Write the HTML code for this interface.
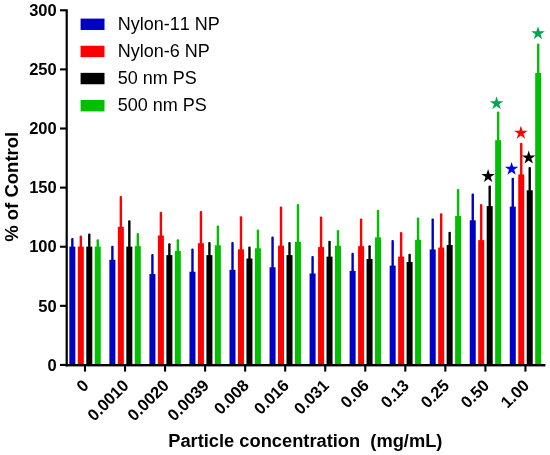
<!DOCTYPE html>
<html><head><meta charset="utf-8"><title>Chart</title>
<style>html,body{margin:0;padding:0;background:#fff}svg{display:block}text{font-family:"Liberation Sans",Arial,sans-serif;fill:#000;font-kerning:none}</style></head><body>
<svg width="550" height="455" viewBox="0 0 550 455">
<rect width="550" height="455" fill="#fff"/>
<rect x="69.34" y="246.60" width="6.0" height="118.00" fill="#0000c6"/>
<rect x="71.14" y="238.10" width="2.4" height="9.50" rx="1" fill="#0000c6"/>
<rect x="77.81" y="246.60" width="6.0" height="118.00" fill="#ff0000"/>
<rect x="79.61" y="235.51" width="2.4" height="12.09" rx="1" fill="#ff0000"/>
<rect x="86.28" y="246.60" width="6.0" height="118.00" fill="#000000"/>
<rect x="88.08" y="233.38" width="2.4" height="14.22" rx="1" fill="#000000"/>
<rect x="94.75" y="246.60" width="6.0" height="118.00" fill="#00c000"/>
<rect x="96.55" y="239.17" width="2.4" height="8.43" rx="1" fill="#00c000"/>
<rect x="109.38" y="259.82" width="6.0" height="104.78" fill="#0000c6"/>
<rect x="111.18" y="245.77" width="2.4" height="15.04" rx="1" fill="#0000c6"/>
<rect x="117.85" y="226.78" width="6.0" height="137.82" fill="#ff0000"/>
<rect x="119.65" y="195.98" width="2.4" height="31.80" rx="1" fill="#ff0000"/>
<rect x="126.33" y="246.60" width="6.0" height="118.00" fill="#000000"/>
<rect x="128.13" y="220.17" width="2.4" height="27.43" rx="1" fill="#000000"/>
<rect x="134.80" y="246.13" width="6.0" height="118.47" fill="#00c000"/>
<rect x="136.60" y="232.91" width="2.4" height="14.22" rx="1" fill="#00c000"/>
<rect x="149.42" y="274.09" width="6.0" height="90.51" fill="#0000c6"/>
<rect x="151.22" y="254.03" width="2.4" height="21.06" rx="1" fill="#0000c6"/>
<rect x="157.89" y="235.51" width="6.0" height="129.09" fill="#ff0000"/>
<rect x="159.69" y="211.79" width="2.4" height="24.72" rx="1" fill="#ff0000"/>
<rect x="166.37" y="255.10" width="6.0" height="109.50" fill="#000000"/>
<rect x="168.17" y="243.18" width="2.4" height="12.92" rx="1" fill="#000000"/>
<rect x="174.84" y="250.85" width="6.0" height="113.75" fill="#00c000"/>
<rect x="176.64" y="239.17" width="2.4" height="12.68" rx="1" fill="#00c000"/>
<rect x="189.47" y="271.73" width="6.0" height="92.87" fill="#0000c6"/>
<rect x="191.27" y="248.49" width="2.4" height="24.25" rx="1" fill="#0000c6"/>
<rect x="197.94" y="243.18" width="6.0" height="121.42" fill="#ff0000"/>
<rect x="199.74" y="210.96" width="2.4" height="33.21" rx="1" fill="#ff0000"/>
<rect x="206.41" y="255.10" width="6.0" height="109.50" fill="#000000"/>
<rect x="208.21" y="241.88" width="2.4" height="14.22" rx="1" fill="#000000"/>
<rect x="214.88" y="245.30" width="6.0" height="119.30" fill="#00c000"/>
<rect x="216.68" y="225.48" width="2.4" height="20.82" rx="1" fill="#00c000"/>
<rect x="229.50" y="269.85" width="6.0" height="94.75" fill="#0000c6"/>
<rect x="231.31" y="241.88" width="2.4" height="28.97" rx="1" fill="#0000c6"/>
<rect x="237.97" y="249.31" width="6.0" height="115.29" fill="#ff0000"/>
<rect x="239.78" y="216.27" width="2.4" height="34.04" rx="1" fill="#ff0000"/>
<rect x="246.45" y="258.52" width="6.0" height="106.08" fill="#000000"/>
<rect x="248.25" y="246.60" width="2.4" height="12.92" rx="1" fill="#000000"/>
<rect x="254.92" y="248.25" width="6.0" height="116.35" fill="#00c000"/>
<rect x="256.72" y="229.49" width="2.4" height="19.76" rx="1" fill="#00c000"/>
<rect x="269.55" y="267.25" width="6.0" height="97.35" fill="#0000c6"/>
<rect x="271.35" y="236.57" width="2.4" height="31.68" rx="1" fill="#0000c6"/>
<rect x="278.01" y="245.66" width="6.0" height="118.94" fill="#ff0000"/>
<rect x="279.81" y="206.48" width="2.4" height="40.18" rx="1" fill="#ff0000"/>
<rect x="286.49" y="255.10" width="6.0" height="109.50" fill="#000000"/>
<rect x="288.29" y="241.88" width="2.4" height="14.22" rx="1" fill="#000000"/>
<rect x="294.95" y="241.88" width="6.0" height="122.72" fill="#00c000"/>
<rect x="296.75" y="203.88" width="2.4" height="39.00" rx="1" fill="#00c000"/>
<rect x="309.59" y="273.50" width="6.0" height="91.10" fill="#0000c6"/>
<rect x="311.39" y="255.92" width="2.4" height="18.58" rx="1" fill="#0000c6"/>
<rect x="318.06" y="247.07" width="6.0" height="117.53" fill="#ff0000"/>
<rect x="319.86" y="216.51" width="2.4" height="31.56" rx="1" fill="#ff0000"/>
<rect x="326.53" y="256.63" width="6.0" height="107.97" fill="#000000"/>
<rect x="328.33" y="240.82" width="2.4" height="16.81" rx="1" fill="#000000"/>
<rect x="335.00" y="245.77" width="6.0" height="118.83" fill="#00c000"/>
<rect x="336.80" y="230.08" width="2.4" height="16.69" rx="1" fill="#00c000"/>
<rect x="349.62" y="270.91" width="6.0" height="93.69" fill="#0000c6"/>
<rect x="351.43" y="252.74" width="2.4" height="19.17" rx="1" fill="#0000c6"/>
<rect x="358.09" y="246.13" width="6.0" height="118.47" fill="#ff0000"/>
<rect x="359.89" y="218.40" width="2.4" height="28.73" rx="1" fill="#ff0000"/>
<rect x="366.56" y="258.99" width="6.0" height="105.61" fill="#000000"/>
<rect x="368.37" y="245.30" width="2.4" height="14.69" rx="1" fill="#000000"/>
<rect x="375.03" y="237.40" width="6.0" height="127.20" fill="#00c000"/>
<rect x="376.83" y="209.67" width="2.4" height="28.73" rx="1" fill="#00c000"/>
<rect x="389.67" y="265.60" width="6.0" height="99.00" fill="#0000c6"/>
<rect x="391.47" y="239.99" width="2.4" height="26.61" rx="1" fill="#0000c6"/>
<rect x="398.13" y="256.63" width="6.0" height="107.97" fill="#ff0000"/>
<rect x="399.94" y="232.09" width="2.4" height="25.54" rx="1" fill="#ff0000"/>
<rect x="406.61" y="261.94" width="6.0" height="102.66" fill="#000000"/>
<rect x="408.41" y="253.68" width="2.4" height="9.26" rx="1" fill="#000000"/>
<rect x="415.07" y="239.76" width="6.0" height="124.84" fill="#00c000"/>
<rect x="416.88" y="217.57" width="2.4" height="23.18" rx="1" fill="#00c000"/>
<rect x="429.71" y="249.43" width="6.0" height="115.17" fill="#0000c6"/>
<rect x="431.51" y="218.52" width="2.4" height="31.92" rx="1" fill="#0000c6"/>
<rect x="438.18" y="247.54" width="6.0" height="117.06" fill="#ff0000"/>
<rect x="439.98" y="213.21" width="2.4" height="35.34" rx="1" fill="#ff0000"/>
<rect x="446.65" y="245.07" width="6.0" height="119.53" fill="#000000"/>
<rect x="448.45" y="231.73" width="2.4" height="14.33" rx="1" fill="#000000"/>
<rect x="455.12" y="215.92" width="6.0" height="148.68" fill="#00c000"/>
<rect x="456.92" y="188.90" width="2.4" height="28.02" rx="1" fill="#00c000"/>
<rect x="469.75" y="220.29" width="6.0" height="144.31" fill="#0000c6"/>
<rect x="471.55" y="193.50" width="2.4" height="27.79" rx="1" fill="#0000c6"/>
<rect x="478.21" y="240.11" width="6.0" height="124.49" fill="#ff0000"/>
<rect x="480.01" y="204.12" width="2.4" height="36.99" rx="1" fill="#ff0000"/>
<rect x="486.69" y="206.13" width="6.0" height="158.47" fill="#000000"/>
<rect x="488.49" y="185.59" width="2.4" height="21.53" rx="1" fill="#000000"/>
<rect x="495.15" y="140.16" width="6.0" height="224.44" fill="#00c000"/>
<rect x="496.95" y="111.49" width="2.4" height="29.67" rx="1" fill="#00c000"/>
<rect x="509.78" y="206.60" width="6.0" height="158.00" fill="#0000c6"/>
<rect x="511.58" y="177.69" width="2.4" height="29.91" rx="1" fill="#0000c6"/>
<rect x="518.25" y="174.38" width="6.0" height="190.22" fill="#ff0000"/>
<rect x="520.05" y="142.76" width="2.4" height="32.62" rx="1" fill="#ff0000"/>
<rect x="526.73" y="190.31" width="6.0" height="174.29" fill="#000000"/>
<rect x="528.52" y="166.95" width="2.4" height="24.36" rx="1" fill="#000000"/>
<rect x="535.20" y="73.02" width="6.0" height="291.58" fill="#00c000"/>
<rect x="537.00" y="43.52" width="2.4" height="30.50" rx="1" fill="#00c000"/>
<rect x="65.6" y="9.3" width="2.2" height="357.10" fill="#000"/>
<rect x="65.6" y="364.0" width="479.80" height="2.4" fill="#000"/>
<rect x="60" y="363.90" width="6.5" height="2.1" fill="#000"/>
 <text x="56.7" y="370.65" font-size="16.5" font-weight="bold" text-anchor="end">0</text>
<rect x="60" y="304.79" width="6.5" height="2.1" fill="#000"/>
 <text x="56.7" y="311.54" font-size="16.5" font-weight="bold" text-anchor="end">50</text>
<rect x="60" y="245.68" width="6.5" height="2.1" fill="#000"/>
 <text x="56.7" y="252.43" font-size="16.5" font-weight="bold" text-anchor="end">100</text>
<rect x="60" y="186.57" width="6.5" height="2.1" fill="#000"/>
 <text x="56.7" y="193.32" font-size="16.5" font-weight="bold" text-anchor="end">150</text>
<rect x="60" y="127.46" width="6.5" height="2.1" fill="#000"/>
 <text x="56.7" y="134.21" font-size="16.5" font-weight="bold" text-anchor="end">200</text>
<rect x="60" y="68.35" width="6.5" height="2.1" fill="#000"/>
 <text x="56.7" y="75.10" font-size="16.5" font-weight="bold" text-anchor="end">250</text>
<rect x="60" y="9.24" width="6.5" height="2.1" fill="#000"/>
 <text x="56.7" y="15.99" font-size="16.5" font-weight="bold" text-anchor="end">300</text>
<rect x="83.95" y="364.60" width="2.1" height="7.00" fill="#000"/>
<text transform="translate(89.80,386.4) rotate(-45)" font-size="16.5" font-weight="bold" text-anchor="end">0</text>
<rect x="123.99" y="364.60" width="2.1" height="7.00" fill="#000"/>
<text transform="translate(129.84,386.4) rotate(-45)" font-size="16.5" font-weight="bold" text-anchor="end">0.0010</text>
<rect x="164.03" y="364.60" width="2.1" height="7.00" fill="#000"/>
<text transform="translate(169.88,386.4) rotate(-45)" font-size="16.5" font-weight="bold" text-anchor="end">0.0020</text>
<rect x="204.07" y="364.60" width="2.1" height="7.00" fill="#000"/>
<text transform="translate(209.92,386.4) rotate(-45)" font-size="16.5" font-weight="bold" text-anchor="end">0.0039</text>
<rect x="244.11" y="364.60" width="2.1" height="7.00" fill="#000"/>
<text transform="translate(249.96,386.4) rotate(-45)" font-size="16.5" font-weight="bold" text-anchor="end">0.008</text>
<rect x="284.15" y="364.60" width="2.1" height="7.00" fill="#000"/>
<text transform="translate(290.00,386.4) rotate(-45)" font-size="16.5" font-weight="bold" text-anchor="end">0.016</text>
<rect x="324.19" y="364.60" width="2.1" height="7.00" fill="#000"/>
<text transform="translate(330.04,386.4) rotate(-45)" font-size="16.5" font-weight="bold" text-anchor="end">0.031</text>
<rect x="364.23" y="364.60" width="2.1" height="7.00" fill="#000"/>
<text transform="translate(370.08,386.4) rotate(-45)" font-size="16.5" font-weight="bold" text-anchor="end">0.06</text>
<rect x="404.27" y="364.60" width="2.1" height="7.00" fill="#000"/>
<text transform="translate(410.12,386.4) rotate(-45)" font-size="16.5" font-weight="bold" text-anchor="end">0.13</text>
<rect x="444.31" y="364.60" width="2.1" height="7.00" fill="#000"/>
<text transform="translate(450.16,386.4) rotate(-45)" font-size="16.5" font-weight="bold" text-anchor="end">0.25</text>
<rect x="484.35" y="364.60" width="2.1" height="7.00" fill="#000"/>
<text transform="translate(490.20,386.4) rotate(-45)" font-size="16.5" font-weight="bold" text-anchor="end">0.50</text>
<rect x="524.39" y="364.60" width="2.1" height="7.00" fill="#000"/>
<text transform="translate(530.24,386.4) rotate(-45)" font-size="16.5" font-weight="bold" text-anchor="end">1.00</text>
<text transform="translate(18.4,186.8) rotate(-90)" font-size="18.5" font-weight="bold" text-anchor="middle">% of Control</text>
<text x="168.2" y="446.5" font-size="18.3" font-weight="bold" xml:space="preserve" style="white-space:pre">Particle concentration  (mg/mL)</text>
<rect x="80.6" y="18.60" width="23.9" height="11.4" fill="#0000c6"/>
<text x="117.7" y="29.60" font-size="18">Nylon-11 NP</text>
<rect x="80.6" y="45.73" width="23.9" height="11.4" fill="#ff0000"/>
<text x="117.7" y="56.73" font-size="18">Nylon-6 NP</text>
<rect x="80.6" y="72.86" width="23.9" height="11.4" fill="#000000"/>
<text x="117.7" y="83.86" font-size="18">50 nm PS</text>
<rect x="80.6" y="99.99" width="23.9" height="11.4" fill="#00c000"/>
<text x="117.7" y="110.99" font-size="18">500 nm PS</text>
<polygon points="488.10,169.10 489.69,174.01 494.85,174.01 490.68,177.04 492.27,181.94 488.10,178.91 483.93,181.94 485.52,177.04 481.35,174.01 486.51,174.01" fill="#000"/>
<polygon points="496.60,96.30 498.19,101.21 503.35,101.21 499.18,104.24 500.77,109.14 496.60,106.11 492.43,109.14 494.02,104.24 489.85,101.21 495.01,101.21" fill="#00a550"/>
<polygon points="511.60,161.90 513.19,166.81 518.35,166.81 514.18,169.84 515.77,174.74 511.60,171.71 507.43,174.74 509.02,169.84 504.85,166.81 510.01,166.81" fill="#0000ff"/>
<polygon points="520.90,125.80 522.49,130.71 527.65,130.71 523.48,133.74 525.07,138.64 520.90,135.61 516.73,138.64 518.32,133.74 514.15,130.71 519.31,130.71" fill="#ff0000"/>
<polygon points="528.70,150.60 530.29,155.51 535.45,155.51 531.28,158.54 532.87,163.44 528.70,160.41 524.53,163.44 526.12,158.54 521.95,155.51 527.11,155.51" fill="#000"/>
<polygon points="538.00,26.30 539.59,31.21 544.75,31.21 540.58,34.24 542.17,39.14 538.00,36.11 533.83,39.14 535.42,34.24 531.25,31.21 536.41,31.21" fill="#00a550"/>
</svg></body></html>
